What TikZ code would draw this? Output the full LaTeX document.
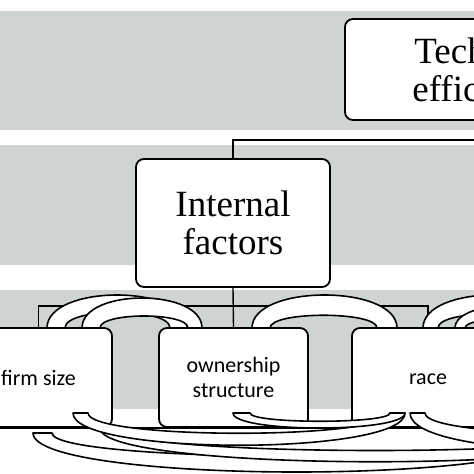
\documentclass[tikz,border=0pt]{standalone}
\usepackage{fontspec}
\setmainfont{Liberation Serif}
\newfontfamily\factorfont{Carlito}
\definecolor{bandgray}{RGB}{206,212,211}
\tikzset{
  box/.style={draw,fill=white,rounded corners=8pt,line width=1.8pt,align=center,inner sep=0pt},
  head/.style={box,font=\fontsize{37}{38}\selectfont},
  factor/.style={box,font=\factorfont\fontsize{22}{25}\selectfont,minimum width=#1,minimum height=99pt},
  ribbon/.style={fill=white,draw,line width=1.6pt,line join=round},
  link/.style={line width=1.4pt}
}

\begin{document}
\begin{tikzpicture}[x=1pt,y=-1pt]
    \useasboundingbox (0,0) rectangle (474,474);
    \clip (0,0) rectangle (474,474);

    % grey bands
    \fill[bandgray] (0,11) rectangle (474,130);
    \fill[bandgray] (0,145) rectangle (474,265);
    \fill[bandgray] (0,290) rectangle (474,409);

    \node [head,minimum width=282pt,minimum height=101pt,text depth=0pt] (tech) at (486,69.5) {Technical\\efficiency};
    \node [head,minimum width=194pt,minimum height=128pt] (internal) at (233,223) {Internal\\factors};

    \node [factor=147pt] (firm) at (38.5,377.5) {firm size};
    \node [factor=149pt] (own) at (233.5,377.5) {ownership\\structure};
    \node [factor=152pt,text height=14pt] (race) at (428,377.5) {race};

    \draw[link] (internal.north) -- ++(0,-18) -| (tech.south);
    \draw[link] (internal.south) -- (own.north);
    \draw[link] (firm.north) -- ++(0,-21) -| (race.north);
    \draw[link] (firm.south west) -- (race.south east);

    % arches on top of the boxes
    \draw[ribbon] (47,328) .. controls (47,284) and (187,284) .. (187,328) -- (170,328) .. controls (170,307) and (65,307) .. (65,328) -- cycle;
    \draw[ribbon] (82,328) .. controls (82,288) and (202,288) .. (202,328) -- (188,328) .. controls (188,312) and (100,312) .. (100,328) -- cycle;
    \draw[ribbon] (252,328) .. controls (252,284) and (397,284) .. (397,328) -- (377,328) .. controls (377,311) and (270,311) .. (270,328) -- cycle;
    \draw[ribbon] (423,328) .. controls (423,284) and (563,284) .. (563,328) -- (548,328) .. controls (548,309) and (438,309) .. (438,328) -- cycle;
    \draw[ribbon] (455,328) .. controls (455,297) and (575,297) .. (575,328) -- (565,328) .. controls (565,315) and (465,315) .. (465,328) -- cycle;

    % bowls under the boxes
    \draw[ribbon] (33,433) .. controls (33,485) and (560,485) .. (560,433) -- (541,433) .. controls (541,464) and (52,464) .. (52,433) -- cycle;
    \draw[ribbon] (100,428) .. controls (100,473) and (650,473) .. (650,428) -- (635,428) .. controls (635,458) and (115,458) .. (115,428) -- cycle;
    \draw[ribbon] (73,413) .. controls (73,456) and (405,456) .. (405,413) -- (390,413) .. controls (390,440) and (88,440) .. (88,413) -- cycle;
    \draw[ribbon] (410,413) .. controls (410,462) and (740,462) .. (740,413) -- (725,413) .. controls (725,440) and (425,440) .. (425,413) -- cycle;
    \draw[ribbon] (233,413) .. controls (233,433) and (405,433) .. (405,413) -- (390,413) .. controls (390,424) and (250,424) .. (250,413) -- cycle;
\end{tikzpicture}
\end{document}
